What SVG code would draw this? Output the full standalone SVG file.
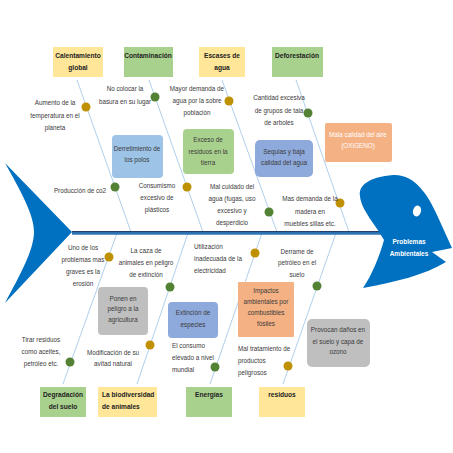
<svg xmlns="http://www.w3.org/2000/svg" width="453" height="453" viewBox="0 0 453 453">
<style>
text{font-family:"Liberation Sans",Arial,sans-serif;font-size:6.3px;fill:#3a3a3a;text-anchor:middle}
.l{text-anchor:start}
.cat{font-weight:bold;font-size:6.6px;fill:#222}
.bone{stroke:#9DC3E6;stroke-width:0.8;fill:none}
.g{fill:#548235}
.y{fill:#BF9000}
.cy{fill:#FFE699}
.cg{fill:#A9D18E}
.w{fill:#ffffff}
</style>
<rect width="453" height="453" fill="#ffffff"/>
<g id="connectors">
<line class="bone" x1="77" y1="80" x2="131" y2="232"/>
<line class="bone" x1="149" y1="80" x2="203" y2="232"/>
<line class="bone" x1="222" y1="80" x2="277" y2="232"/>
<line class="bone" x1="296" y1="80" x2="349" y2="232"/>
<line class="bone" x1="63" y1="384" x2="117" y2="233"/>
<line class="bone" x1="137" y1="384" x2="188" y2="233"/>
<line class="bone" x1="210" y1="384" x2="262" y2="233"/>
<line class="bone" x1="283" y1="384" x2="336" y2="233"/>
<line x1="72" y1="233" x2="386" y2="233" stroke="#2E75B6" stroke-width="3.5"/>
<line x1="72" y1="231.6" x2="386" y2="231.6" stroke="#1F3864" stroke-width="1"/>
</g>
<g id="tail"><path d="M5,163 L72,232 L5,303 C20,275 34,250 34,232 C34,214 20,190 5,163 Z" fill="#0070C0"/></g>
<g id="head">
<path d="M360,196 C358,185 370,177 393,175 C415,174 428,195 437,215 L452,248 L432,252 L446,262 C425,275 395,282 363,288 C372,275 380,255 384,240 C376,225 361,210 360,196 Z" fill="#0070C0"/>
<ellipse cx="417" cy="211" rx="4" ry="5.5" transform="rotate(15 417 211)" fill="#ffffff"/>
<text x="409" y="244" class="w" style="font-weight:bold;font-size:6.5px">Problemas</text>
<text x="409" y="256" class="w" style="font-weight:bold;font-size:6.5px">Ambientales</text>
</g>
<g id="cat-calentamiento"><rect x="53" y="47" width="50" height="30" class="cy"/><text x="78" y="58" class="cat">Calentamiento</text><text x="78" y="70" class="cat">global</text></g>
<g id="cat-contaminacion"><rect x="124" y="47" width="49" height="30" class="cg"/><text x="148" y="58" class="cat">Contaminación</text></g>
<g id="cat-escases"><rect x="199" y="47" width="46" height="30" class="cy"/><text x="222" y="58" class="cat">Escases de</text><text x="222" y="70" class="cat">agua</text></g>
<g id="cat-deforestacion"><rect x="272" y="47" width="51" height="30" class="cg"/><text x="297" y="58" class="cat">Deforestación</text></g>
<g id="cat-degradacion"><rect x="40" y="387" width="46" height="30" class="cg"/><text x="63" y="397" class="cat">Degradación</text><text x="63" y="409" class="cat">del suelo</text></g>
<g id="cat-biodiversidad"><rect x="98" y="387" width="59" height="30" class="cy"/><text x="102" y="397" class="cat l">La biodiversidad</text><text x="102" y="409" class="cat l">de animales</text></g>
<g id="cat-energias"><rect x="186" y="387" width="46" height="30" class="cg"/><text x="209" y="397" class="cat">Energías</text></g>
<g id="cat-residuos"><rect x="259" y="387" width="46" height="30" class="cy"/><text x="282" y="397" class="cat">residuos</text></g>
<g id="dots">
<circle cx="86" cy="107" r="4.5" class="y"/><circle cx="115" cy="187" r="4.5" class="g"/>
<circle cx="155" cy="97" r="4.5" class="g"/><circle cx="187" cy="187" r="4.5" class="y"/>
<circle cx="229" cy="101" r="4.5" class="y"/><circle cx="269" cy="212" r="4.5" class="g"/>
<circle cx="308" cy="113" r="4.5" class="g"/><circle cx="340" cy="203" r="4.5" class="y"/>
<circle cx="109" cy="257" r="4.5" class="y"/><circle cx="70" cy="362" r="4.5" class="g"/>
<circle cx="170" cy="287" r="4.5" class="g"/><circle cx="150" cy="345" r="4.5" class="y"/>
<circle cx="255" cy="253" r="4.5" class="y"/><circle cx="215" cy="367" r="4.5" class="g"/>
<circle cx="317" cy="286" r="4.5" class="g"/><circle cx="288" cy="366" r="4.5" class="y"/>
</g>
<g id="labels">
<text x="55" y="105">Aumento de la</text><text x="55" y="118">temperatura en el</text><text x="55" y="130">planeta</text>
<text x="80" y="193">Producción de co2</text>
<text x="125" y="91">No colocar la</text><text x="125" y="104">basura en su lugar</text>
<text x="157" y="188">Consumismo</text><text x="157" y="200">excesivo de</text><text x="157" y="212">plásticos</text>
<text x="197" y="91">Mayor demanda de</text><text x="197" y="103">agua por la sobre</text><text x="197" y="115">población</text>
<text x="232" y="189">Mal cuidado del</text><text x="232" y="201">agua (fugas, uso</text><text x="232" y="213">excesivo y</text><text x="232" y="225">desperdicio</text>
<text x="279" y="100">Cantidad excesiva</text><text x="279" y="113">de grupos de tala</text><text x="279" y="125">de arboles</text>
<text x="310" y="201">Mas demanda de la</text><text x="310" y="214">madera en</text><text x="310" y="226">muebles sillas etc.</text>
<text x="83" y="250">Uno de los</text><text x="83" y="262">problemas mas</text><text x="83" y="274">graves es la</text><text x="83" y="286">erosión</text>
<text x="146" y="253">La caza de</text><text x="146" y="265">animales en peligro</text><text x="146" y="277">de extinción</text>
<text x="194" y="249" class="l">Utilización</text><text x="194" y="261" class="l">inadecuada de la</text><text x="194" y="273" class="l">electricidad</text>
<text x="297" y="254">Derrame de</text><text x="297" y="265">petróleo en el</text><text x="297" y="277">suelo</text>
<text x="41" y="342">Tirar residuos</text><text x="41" y="354">como aceites,</text><text x="41" y="366">petróleo etc.</text>
<text x="113" y="355">Modificación de su</text><text x="113" y="366">avitad natural</text>
<text x="172" y="348" class="l">El consumo</text><text x="172" y="360" class="l">elevado a nivel</text><text x="172" y="372" class="l">mundial</text>
<text x="238" y="351" class="l">Mal tratamiento de</text><text x="238" y="363" class="l">productos</text><text x="238" y="375" class="l">peligrosos</text>
</g>
<g id="box-derretimiento"><rect x="112" y="135" width="51" height="43" rx="4" fill="#9DC3E6"/><text x="137" y="151">Derretimiento de</text><text x="137" y="162">los polos</text></g>
<g id="box-exceso"><rect x="183" y="129" width="51" height="45" rx="4" fill="#A9D18E"/><text x="208" y="142">Exceso de</text><text x="208" y="154">residuos en la</text><text x="208" y="165">tierra</text></g>
<g id="box-sequias"><rect x="255" y="140" width="58" height="37" rx="5" fill="#8EA9DB"/><text x="284" y="154">Sequias y baja</text><text x="284" y="165">calidad del agua</text></g>
<g id="box-aire"><rect x="325" y="123" width="67" height="39" rx="2" fill="#F4B183"/><text x="358" y="137" class="w">Mala calidad del aire</text><text x="358" y="148" class="w">(OXIGENO)</text></g>
<g id="box-ponen"><rect x="98" y="287" width="50" height="48" rx="4" fill="#BFBFBF"/><text x="123" y="301">Ponen en</text><text x="123" y="311">peligro a la</text><text x="123" y="322">agricultura</text></g>
<g id="box-extincion"><rect x="168" y="302" width="50" height="36" rx="4" fill="#8EA9DB"/><text x="193" y="315">Extinción de</text><text x="193" y="327">especies</text></g>
<g id="box-impactos"><rect x="238" y="282" width="56" height="55" rx="1" fill="#F4B183"/><text x="266" y="293">Impactos</text><text x="266" y="304">ambientales por</text><text x="266" y="315">combustibles</text><text x="266" y="326">fósiles</text></g>
<g id="box-provocan"><rect x="307" y="319" width="63" height="48" rx="5" fill="#BFBFBF"/><text x="338" y="332">Provocan daños en</text><text x="338" y="344">el suelo y capa de</text><text x="338" y="354">ozono</text></g>
</svg>
